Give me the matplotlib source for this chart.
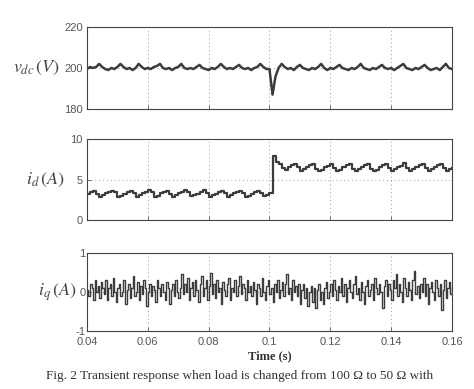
#!/usr/bin/env python3
# Transient response figure: vdc, id, iq vs time
import numpy as np
import matplotlib
matplotlib.use("Agg")
import matplotlib.pyplot as plt

plt.rcParams["mathtext.fontset"] = "stix"
plt.rcParams["axes.unicode_minus"] = False

# --- data ---
t_start, t_end = 0.04, 0.16
xticks = [0.04, 0.06, 0.08, 0.10, 0.12, 0.14, 0.16]
xtick_labels = ["0.04", "0.06", "0.08", "0.1", "0.12", "0.14", "0.16"]

# sampled every 1 ms from 0.04 s
vdc = [199.5, 200.5, 200, 200.5, 202, 200.5, 199.5, 199, 200, 199.5,
       200.5, 202, 200.5, 199.5, 200, 199, 200, 202, 200.5, 199.5,
       200, 199.5, 200.5, 201, 202, 200, 199.5, 200, 199, 200,
       200.5, 202, 200, 199.5, 200, 199.5, 200.5, 201.5, 200, 199.5,
       199, 200, 199.5, 200.5, 202, 200.5, 199.5, 200, 199.5, 200.5,
       201.5, 200, 199.5, 200, 199, 200, 200.5, 202, 200.5, 199.5,
       199.5, 187, 196, 200, 202, 200.5, 199.5, 200, 199, 200.5,
       201.5, 200, 199.5, 199, 200, 199.5, 200.5, 202, 200, 199,
       200, 199.5, 200.5, 201.5, 200, 199.5, 199, 200, 199.5, 200.5,
       202, 200, 199.5, 199, 200, 199.5, 200.5, 201.5, 200, 199.5,
       200, 199, 200, 201, 202, 200, 199.5, 199, 200, 199.5,
       200.5, 201.5, 200, 199, 199.5, 200, 199, 200.5, 202, 200,
       199.5]

i_d = [3.2, 3.5, 3.6, 3.2, 2.9, 3.1, 3.3, 3.4, 3.6, 3.5,
       2.9, 3.0, 3.2, 3.4, 3.6, 3.3, 2.9, 3.1, 3.3, 3.4,
       3.7, 3.4, 2.9, 3.0, 3.3, 3.4, 3.6, 3.2, 2.9, 3.1,
       3.3, 3.5, 3.7, 3.4, 3.0, 3.1, 3.2, 3.4, 3.7, 3.3,
       2.9, 3.1, 3.2, 3.5, 3.6, 3.3, 2.9, 3.1, 3.3, 3.4,
       3.6, 3.3, 2.9, 3.0, 3.2, 3.4, 3.6, 3.3, 3.0, 3.1,
       3.3, 7.9, 7.2, 6.9, 6.4, 6.2, 6.5, 6.8, 6.9, 6.6,
       6.1, 6.3, 6.6, 6.8, 6.9, 6.3, 6.0, 6.2, 6.5, 6.7,
       6.9, 6.4, 6.0, 6.2, 6.6, 6.8, 6.9, 6.3, 6.1, 6.3,
       6.6, 6.8, 6.9, 6.3, 6.0, 6.2, 6.5, 6.8, 6.9, 6.4,
       6.0, 6.3, 6.6, 6.7, 7.0, 6.4, 6.1, 6.3, 6.5, 6.8,
       6.9, 6.4, 6.0, 6.3, 6.6, 6.8, 6.9, 6.4, 6.1, 6.3,
       6.4]

# sampled every 0.5 ms from 0.04 s
i_q = [0.05, -0.1, 0.2, 0.1, -0.2, 0.3, 0.0, 0.15, -0.15, 0.25, 0.1, -0.05, 0.3, -0.2, 0.1, 0.2, -0.1, 0.35, 0.0, -0.25,
       0.1, 0.2, -0.1, 0.0, 0.3, -0.3, 0.05, 0.2, -0.15, 0.1, 0.4, -0.1, 0.0, 0.25, -0.2, 0.15, -0.05, 0.3, 0.1, -0.35,
       0.0, 0.2, -0.1, 0.15, 0.05, -0.25, 0.3, 0.1, -0.1, 0.2, 0.0, -0.2, 0.25, 0.1, -0.3, 0.05, 0.2, -0.1, 0.3, 0.0,
       -0.15, 0.1, 0.45, -0.05, 0.2, 0.0, 0.35, -0.2, 0.1, 0.25, -0.1, 0.3, 0.05, -0.25, 0.2, 0.4, -0.1, 0.1, 0.3, -0.2,
       0.15, 0.5, -0.05, 0.2, -0.15, 0.3, 0.0, 0.1, -0.3, 0.25, 0.05, -0.1, 0.2, 0.35, -0.2, 0.1, 0.0, 0.3, -0.1, 0.15,
       0.4, -0.05, 0.2, 0.1, -0.2, 0.3, 0.0, 0.15, -0.1, 0.25, 0.05, -0.3, 0.2, 0.1, -0.1, 0.35, 0.0, -0.2, 0.15, 0.3,
       -0.05, 0.1, -0.25, 0.2, 0.0, 0.3, -0.15, 0.05, 0.25, -0.1, 0.2, 0.45, -0.05, 0.1, -0.2, 0.3, 0.0, 0.15, -0.1, 0.2,
       -0.3, 0.05, 0.2, -0.15, 0.1, -0.35, 0.0, 0.15, -0.25, 0.1, -0.4, 0.05, 0.2, -0.2, 0.0, -0.3, 0.1, 0.25, -0.15, 0.0,
       0.2, -0.1, 0.3, 0.05, -0.2, 0.15, 0.0, 0.35, -0.1, 0.2, -0.25, 0.1, 0.3, 0.0, -0.15, 0.2, 0.4, -0.05, 0.1, -0.2,
       0.25, 0.0, -0.3, 0.15, 0.3, -0.1, 0.05, 0.2, -0.2, 0.35, 0.1, -0.05, 0.2, 0.0, -0.4, 0.15, 0.3, -0.1, 0.2, 0.05,
       -0.2, 0.3, 0.1, 0.45, -0.1, 0.2, 0.0, -0.25, 0.35, 0.1, -0.1, 0.25, 0.05, -0.2, 0.3, 0.55, -0.05, 0.15, -0.15, 0.2,
       0.0, 0.35, -0.1, 0.2, -0.3, 0.1, 0.25, 0.0, -0.2, 0.3, 0.1, -0.1, 0.2, -0.45, 0.05, 0.3, -0.15, 0.1, 0.25, -0.05,
       0.1]

t_slow = np.linspace(t_start, t_end, len(vdc))
t_fast = np.linspace(t_start, t_end, len(i_q))

panels = [
    dict(y=vdc, t=t_slow, ylim=(180, 220), yticks=[180, 200, 220],
         label=r"$v_{dc}\,(V)$", lw=1.8, ds="default", pad=3, lx=-0.075),
    dict(y=i_d, t=t_slow, ylim=(0, 10), yticks=[0, 5, 10],
         label=r"$i_d\,(A)$", lw=1.6, ds="steps-post", pad=3, lx=-0.062),
    dict(y=i_q, t=t_fast, ylim=(-1, 1), yticks=[-1, 0, 1],
         label=r"$i_q\,(A)$", lw=1.0, ds="steps-post", pad=1.0, lx=-0.03),
]
# axes rectangles in figure fractions
rects = [(0.1835, 0.7198, 0.770, 0.2108),
         (0.1835, 0.4344, 0.770, 0.2082),
         (0.1835, 0.1491, 0.770, 0.2005)]

fig = plt.figure(figsize=(4.74, 3.89), dpi=100)
tick_col = "#555555"
for k, (p, r) in enumerate(zip(panels, rects)):
    ax = fig.add_axes(r)
    ax.plot(p["t"], p["y"], color="#3c3c3c", lw=p["lw"], drawstyle=p["ds"])
    ax.set_xlim(t_start, t_end)
    ax.set_ylim(*p["ylim"])
    ax.set_xticks(xticks)
    ax.set_yticks(p["yticks"])
    ax.grid(True, linestyle=(0, (1, 3)), color="#999999", lw=0.7)
    ax.tick_params(direction="in", length=3, width=0.6, colors=tick_col,
                   labelsize=8, pad=p["pad"])
    ax.tick_params(axis="x", pad=4)
    for s in ax.spines.values():
        s.set_color("#444444")
        s.set_linewidth(0.8)
    if k < 2:
        ax.set_xticklabels([])
    else:
        ax.set_xticklabels(xtick_labels, family="Liberation Sans")
    for lab in ax.get_yticklabels():
        lab.set_family("Liberation Sans")
    ax.text(p["lx"], 0.5, p["label"], transform=ax.transAxes,
            ha="right", va="center", fontsize=13, color="#444444")

fig.text(0.569, 0.085, "Time (s)", ha="center", va="center", fontsize=9,
         weight="bold", family="Liberation Serif", color="#333333")
fig.text(0.505, 0.033,
         "Fig. 2 Transient response when load is changed from 100 \u03a9 to 50 \u03a9 with",
         ha="center", va="center", fontsize=9.5, family="Liberation Serif",
         color="#333333")

fig.savefig("out.png", dpi=100)
